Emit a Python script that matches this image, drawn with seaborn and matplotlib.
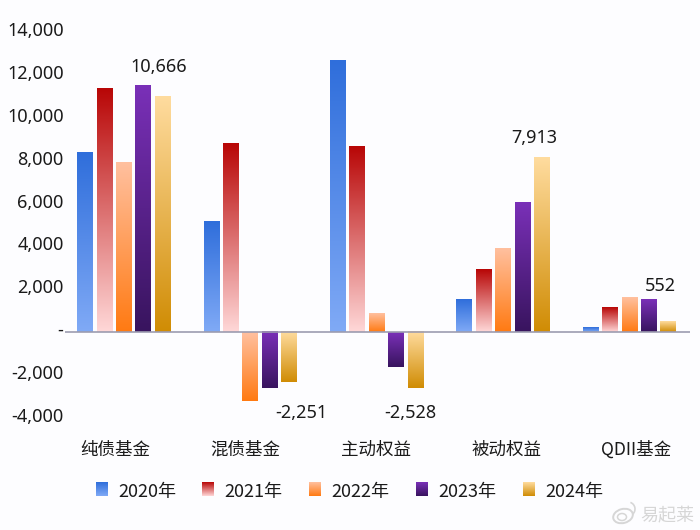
import numpy as np
import pandas as pd
import matplotlib
matplotlib.use("Agg")
import matplotlib.pyplot as plt
from matplotlib.colors import LinearSegmentedColormap
from matplotlib.patches import Arc, Ellipse
from matplotlib.ticker import FuncFormatter
from matplotlib.transforms import ScaledTranslation
import seaborn as sns

categories = ["纯债基金", "混债基金", "主动权益", "被动权益", "QDII基金"]
years = ["2020年", "2021年", "2022年", "2023年", "2024年"]
v2020 = [8380, 5140, 12680, 1530, 220]
v2021 = [11390, 8820, 8680, 2900, 1135]
v2022 = [7910, -3220, 870, 3880, 1590]
v2023 = [11540, -2620, -1635, 6040, 1530]
v2024 = [11000, -2340, -2630, 8150, 500]
yticks = [14000, 12000, 10000, 8000, 6000, 4000, 2000, 0, -2000, -4000]

# top and bottom colour of each year's gradient
tops = ["#2f6edb", "#b80606", "#ffc09f", "#7a30b8", "#ffdc9f"]
bottoms = ["#80aaf6", "#ffd8d8", "#ff7a12", "#38145e", "#d08c04"]

W, H = 700, 530
BG = "#fdfdff"
CJK = ["Noto Sans CJK SC", "DejaVu Sans"]
MARK = "#d6d6d6"

df = pd.DataFrame({"类别": categories * 5,
                   "年份": np.repeat(years, 5),
                   "规模": v2020 + v2021 + v2022 + v2023 + v2024})

sns.set_style("white")
plt.rcParams["font.family"] = ["Noto Sans", "Noto Sans CJK SC"]

fig = plt.figure(figsize=(W / 100, H / 100), dpi=100, facecolor=BG)
# axes box runs 65-690 px across, 20-430 px down
ax = fig.add_axes([65 / W, 1 - 430 / H, 625 / W, 410 / H], facecolor="none")

sns.barplot(data=df, x="类别", y="规模", hue="年份", order=categories, hue_order=years,
            palette=tops, width=0.767, gap=0.22, legend=False, ax=ax)


def grad(i):
    return LinearSegmentedColormap.from_list("g%d" % i, [tops[i], bottoms[i]])


# swap the flat bars for vertical gradients
ramp = np.linspace(0, 1, 256).reshape(-1, 1)
for i, cont in enumerate(ax.containers):
    for bar in cont:
        x0, w = bar.get_x(), bar.get_width()
        y0, h = bar.get_y(), bar.get_height()
        lo, hi = min(y0, y0 + h), max(y0, y0 + h)
        ax.imshow(ramp, cmap=grad(i), aspect="auto", origin="upper",
                  extent=(x0, x0 + w, lo, hi), zorder=2)
        bar.set_visible(False)

ax.set_xlim(-0.463, 4.482)
ax.set_ylim(-4579, 14579)
ax.axhline(0, color="#9c9cb0", lw=1.2, zorder=3)
for s in ax.spines.values():
    s.set_visible(False)
ax.set_xlabel("")
ax.set_ylabel("")
ax.set_xticks([])
ax.set_yticks(yticks)
ax.yaxis.set_major_formatter(FuncFormatter(lambda v, p: "-" if v == 0 else f"{v:,.0f}"))
ax.tick_params(axis="y", length=0, pad=1, labelsize=13, labelcolor="#1a1a1a")
for lab in ax.get_yticklabels():
    lab.set_transform(lab.get_transform() + ScaledTranslation(0, 3 / 100, fig.dpi_scale_trans))


def px_text(x, y, s, **kw):
    kw.setdefault("color", "#1a1a1a")
    kw.setdefault("fontsize", 13)
    return fig.text(x / W, 1 - y / H, s, va="center", **kw)


# category names
for x, c in zip([115, 245.5, 375.7, 506, 636], categories):
    px_text(x, 450, c, ha="center", family=CJK, fontsize=12.6)

# value callouts
for x, y, s in [(159, 67.5, "10,666"), (534, 138, "7,913"), (660, 286, "552"),
                (301, 413, "-2,251"), (410, 413, "-2,528")]:
    px_text(x, y, s, ha="center")

# legend with gradient swatches
for i, (x, y_name) in enumerate(zip([96, 202, 309, 416, 523], years)):
    sw = fig.add_axes([x / W, 1 - 496 / H, 12 / W, 14 / H])
    sw.imshow(ramp, cmap=grad(i), aspect="auto")
    sw.axis("off")
    px_text(x + 22, 492, y_name, ha="left", family=CJK)

# watermark
px_text(640, 516, "易起莱", ha="left", family=CJK, fontsize=13, color=MARK)
wm = fig.add_axes([0, 0, 1, 1], facecolor="none")
wm.set_xlim(0, W)
wm.set_ylim(H, 0)
wm.axis("off")
wm.add_patch(Ellipse((623, 516), 20, 14, angle=-15, fill=False, ec=MARK, lw=1.4))
wm.add_patch(Ellipse((622, 517), 9, 7, fill=False, ec=MARK, lw=1.1))
wm.add_patch(Arc((628, 509), 14, 14, theta1=-70, theta2=50, ec=MARK, lw=1.2))

fig.savefig("out.png", dpi=100, facecolor=BG)
